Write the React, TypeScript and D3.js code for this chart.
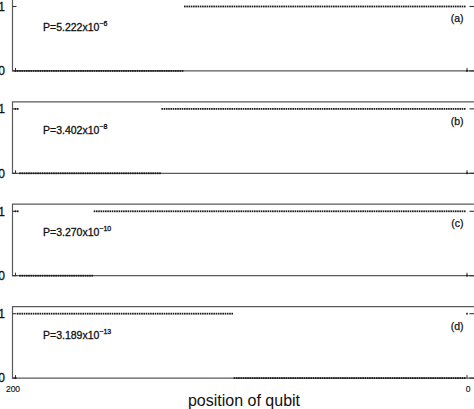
import React from 'react';
import * as d3 from 'd3';

// qubit state along the chain, read as runs: [from position, to position, value]
const runsA: [number, number, number][] = [[200, 126, 0], [125, 1, 1], [0, 0, 0]];
const runsB: [number, number, number][] = [[200, 199, 1], [198, 136, 0], [135, 1, 1], [0, 0, 0]];
const runsC: [number, number, number][] = [[200, 199, 1], [198, 166, 0], [165, 1, 1], [0, 0, 0]];
const runsD: [number, number, number][] = [[200, 200, 0], [199, 104, 1], [103, 1, 0], [0, 0, 1]];

const panelRuns = [runsA, runsB, runsC, runsD];
const panelTags = ['(a)', '(b)', '(c)', '(d)'];
const probMantissa = ['5.222', '3.402', '3.270', '3.189'];
const probExponent = ['−6', '−8', '−10', '−13'];
const yTicks = [0, 1];
const xTicks = [200, 0];
const xLabel = 'position of qubit';

const W = 474;
const H = 409;
const boxLeft = 12.5;
const boxRight = 475.5;
const firstTop = -0.6;
const panelStep = 102.4;
const panelH = 71.5;
const font = '"Liberation Sans", Arial, Helvetica, sans-serif';

// expand runs into one point per position
const expand = (runs: [number, number, number][]) => {
  const pts: { pos: number; v: number }[] = [];
  runs.forEach(([from, to, v]) => {
    for (let p = from; p >= to; p--) pts.push({ pos: p, v });
  });
  return pts;
};

const x = d3.scaleLinear().domain([200, 0]).range([15.5, 467]);

const Panel: React.FC<{ i: number }> = ({ i }) => {
  const top = firstTop + i * panelStep;
  const bottom = top + panelH;
  const y = d3.scaleLinear().domain([0, 1.11]).range([bottom, top]);
  const pts = expand(panelRuns[i]);
  const last = i === panelRuns.length - 1;
  const axisColor = '#5a5a5a';

  return (
    <g>
      {/* box: left, top, bottom (right edge lies just outside the picture) */}
      <path
        d={`M${boxRight},${top}H${boxLeft}V${bottom}H${boxRight}`}
        fill="none"
        stroke={axisColor}
        strokeWidth={1.2}
      />

      {yTicks.map(t => (
        <g key={`yt${t}`}>
          <line x1={boxLeft} x2={boxLeft + 4} y1={y(t)} y2={y(t)} stroke="#333" strokeWidth={1.1} />
          <line x1={boxRight} x2={boxRight - 6} y1={y(t)} y2={y(t)} stroke="#333" strokeWidth={1.1} />
          <text
            x={5}
            y={y(t)}
            dy="0.36em"
            textAnchor="end"
            fontFamily={font}
            fontSize={12}
            fill="#111"
            stroke="#111"
            strokeWidth={0.3}
          >
            {t}
          </text>
        </g>
      ))}

      {xTicks.map(t => (
        <g key={`xt${t}`}>
          <line x1={x(t)} x2={x(t)} y1={bottom} y2={bottom - 3} stroke="#333" strokeWidth={1} />
          {last && (
            <text
              x={t === 200 ? x(t) - 2.5 : x(t) + 1}
              y={bottom + 14}
              textAnchor="middle"
              fontFamily={font}
              fontSize={8.5}
              fill="#111"
              stroke="#111"
              strokeWidth={0.15}
            >
              {t}
            </text>
          )}
        </g>
      ))}

      {pts.map(p => (
        <rect
          key={p.pos}
          x={x(p.pos) - 0.8}
          y={y(p.v) - 0.9}
          width={1.6}
          height={1.8}
          fill="#1a1a1a"
        />
      ))}

      <text
        x={43}
        y={top + 32}
        fontFamily={font}
        fontSize={10.5}
        fill="#111"
        stroke="#111"
        strokeWidth={0.3}
      >
        {`P=${probMantissa[i]}x10`}
        <tspan dy={-5} fontSize={7}>
          {probExponent[i]}
        </tspan>
      </text>

      <text
        x={463.5}
        y={top + 23}
        textAnchor="end"
        fontFamily={font}
        fontSize={10.5}
        fill="#111"
        stroke="#111"
        strokeWidth={0.25}
      >
        {panelTags[i]}
      </text>
    </g>
  );
};

export default function App() {
  return (
    <div style={{ position: 'absolute', left: 0, top: 0 }}>
      <svg width={W} height={H} style={{ display: 'block', background: '#fff' }}>
        {panelRuns.map((_, i) => (
          <Panel key={i} i={i} />
        ))}
        <text
          x={244}
          y={406}
          textAnchor="middle"
          fontFamily={font}
          fontSize={16}
          fill="#111"
        >
          {xLabel}
        </text>
      </svg>
    </div>
  );
}
